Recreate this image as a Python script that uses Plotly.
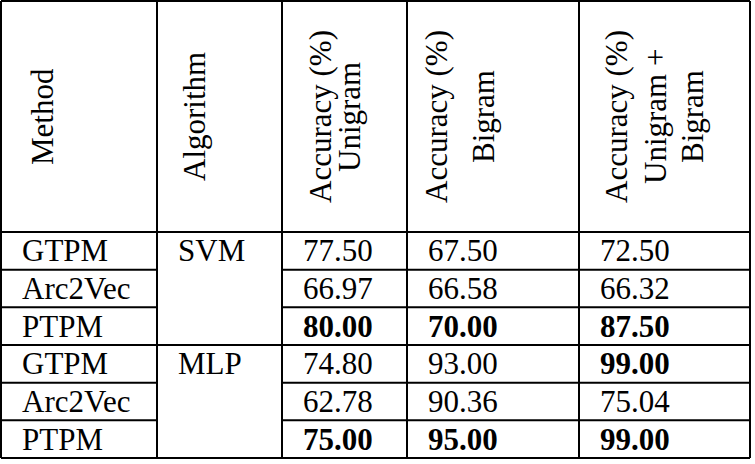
import plotly.graph_objects as go

# table content
methods = ['GTPM', 'Arc2Vec', 'PTPM', 'GTPM', 'Arc2Vec', 'PTPM']
algorithms = ['SVM', 'MLP']
group_size = 3
acc_unigram = [77.50, 66.97, 80.00, 74.80, 62.78, 75.00]
acc_bigram = [67.50, 66.58, 70.00, 93.00, 90.36, 95.00]
acc_both = [72.50, 66.32, 87.50, 99.00, 75.04, 99.00]
headers = [['Method'], ['Algorithm'],
           ['Accuracy (%)', 'Unigram'],
           ['Accuracy (%)', 'Bigram'],
           ['Accuracy (%)', 'Unigram +', 'Bigram']]

# layout in page pixels
W, H = 755, 464
col_edges = [1, 157, 282, 407, 579, 750]
top, head_bottom, bottom = 1, 232, 458
row_h = (bottom - head_bottom) / len(methods)
# x centres of each rotated header line
header_x = [[42], [194], [320, 349], [436, 483], [616, 655, 692]]
header_y = 117
pad = 19
FONT = 'Liberation Serif'
FS = 31

fig = go.Figure()

shapes = []
def line(x0, y0, x1, y1):
    shapes.append(dict(type='line', x0=x0, y0=y0, x1=x1, y1=y1, xref='x', yref='y',
                       line=dict(color='black', width=2)))

# vertical borders
for x in col_edges:
    line(x, top, x, bottom)
# horizontal borders
line(col_edges[0], top, col_edges[-1], top)
line(col_edges[0], head_bottom, col_edges[-1], head_bottom)
line(col_edges[0], bottom, col_edges[-1], bottom)
for i in range(1, len(methods)):
    y = head_bottom + i * row_h
    if i % group_size == 0:
        line(col_edges[0], y, col_edges[-1], y)
    else:
        line(col_edges[0], y, col_edges[1], y)
        line(col_edges[2], y, col_edges[-1], y)

annotations = []
# rotated header text
for lines, xs in zip(headers, header_x):
    for txt, x in zip(lines, xs):
        annotations.append(dict(x=x, y=header_y, xref='x', yref='y', text=txt,
                                textangle=-90, showarrow=False, xanchor='center', yanchor='middle',
                                font=dict(family=FONT, size=FS, color='black')))

def cell(col, row, txt, bold=False):
    annotations.append(dict(x=col_edges[col] + pad, y=head_bottom + (row + 0.5) * row_h,
                            xref='x', yref='y', text='<b>' + txt + '</b>' if bold else txt,
                            showarrow=False, xanchor='left', yanchor='middle',
                            font=dict(family=FONT, size=FS, color='black')))

for r, m in enumerate(methods):
    cell(0, r, m)
for g, a in enumerate(algorithms):
    cell(1, g * group_size, a)

# best value per algorithm group is bold
for c, vals in enumerate([acc_unigram, acc_bigram, acc_both]):
    for g in range(len(algorithms)):
        grp = vals[g * group_size:(g + 1) * group_size]
        for k, v in enumerate(grp):
            cell(c + 2, g * group_size + k, '%.2f' % v, bold=(v == max(grp)))

fig.update_layout(
    width=W, height=H,
    margin=dict(l=0, r=0, t=0, b=0),
    paper_bgcolor='white', plot_bgcolor='white',
    xaxis=dict(range=[0, W], visible=False, fixedrange=True),
    yaxis=dict(range=[H, 0], visible=False, fixedrange=True),
    shapes=shapes, annotations=annotations,
    showlegend=False,
)

# page body has a default margin, drop it so the table sits at the window edge
fig.write_html("out.html", config={'displayModeBar': False},
               post_script="document.body.style.margin = '0';")
